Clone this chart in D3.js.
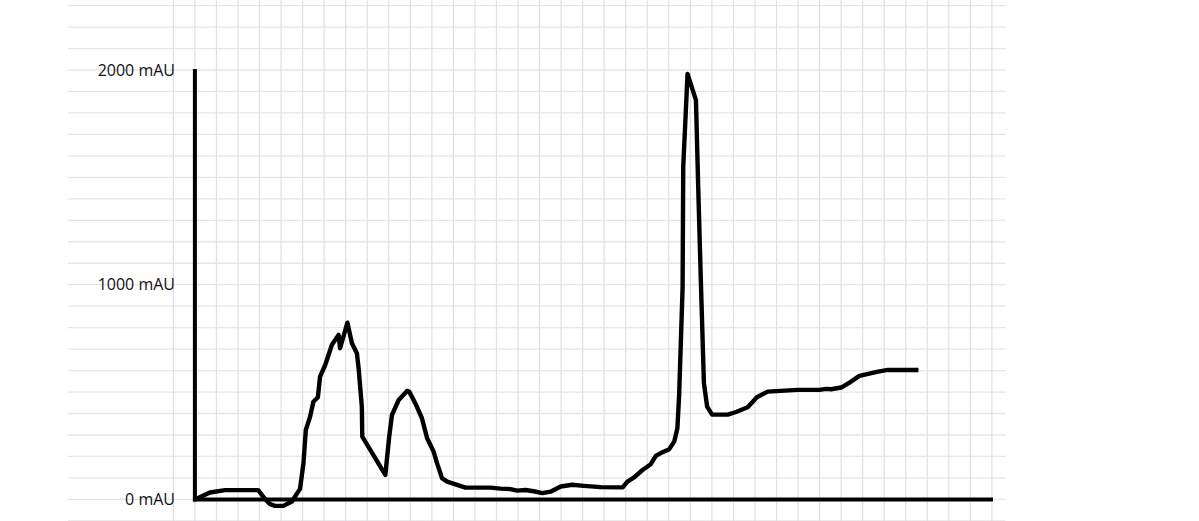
<!DOCTYPE html>
<html>
<head>
<meta charset="utf-8">
<script src="https://cdn.jsdelivr.net/npm/d3@7"></script>
<style>
  body { margin: 0; background: #fff; }
  svg { display: block; }
</style>
</head>
<body>
<div id="chart"></div>
<script>
//chromatogram trace, x in grid units, y in mAU
var timeValues = [0, 0.70, 1.40, 2.94, 3.26, 3.49, 3.72, 4.11, 4.50, 4.88,
    5.04, 5.15, 5.35, 5.50, 5.71, 5.81, 6.05, 6.36, 6.67, 6.74,
    7.08, 7.29, 7.52, 7.60, 7.75, 7.77, 8.84, 9.02, 9.15, 9.46,
    9.85, 9.95, 10.23, 10.54, 10.78, 11.08, 11.24, 11.47, 11.71, 12.56,
    13.72, 14.19, 14.65, 14.96, 15.35, 15.73, 16.13, 16.51, 16.98, 17.52,
    18.06, 18.84, 19.86, 20.08, 20.39, 20.78, 21.16, 21.40, 21.71, 22.02,
    22.25, 22.40, 22.48, 22.64, 22.67, 22.87, 23.26, 23.36, 23.50, 23.63,
    23.78, 24.01, 24.74, 25.12, 25.66, 26.09, 26.59, 27.99, 28.99, 29.30,
    29.53, 30.00, 30.39, 30.85, 31.71, 32.17, 33.59];
var absorbanceValues = [0, 32, 43, 43, 1, -22, -30, -30, -10, 49,
    169, 324, 386, 455, 476, 572, 626, 720, 766, 704,
    823, 727, 681, 611, 432, 292, 114, 292, 394, 463,
    505, 502, 448, 378, 285, 223, 169, 99, 83, 55,
    55, 50, 48, 41, 44, 38, 29, 36, 60, 68,
    63, 57, 56, 83, 103, 137, 164, 203, 220, 234,
    269, 333, 487, 985, 1550, 1982, 1860, 1473, 976, 541,
    432, 395, 395, 407, 429, 476, 502, 510, 510, 515,
    513, 521, 544, 575, 595, 603, 603];
var yTickValues = [0, 1000, 2000];
var yTickLabels = ["0 mAU", "1000 mAU", "2000 mAU"];

//svg size
var svgwidth = 1199;
var svgheight = 521;

var svg = d3.select("#chart").append("svg")
    .attr("width", svgwidth)
    .attr("height", svgheight);

//scales: one grid cell = 1 unit on x, 100 mAU on y
var xScale = d3.scaleLinear()
    .domain([0, 37.05])
    .range([194.9, 993]);
var yScale = d3.scaleLinear()
    .domain([0, 2000])
    .range([499.4, 70]);

//grid
var gridGroup = svg.append("g");

gridGroup.selectAll(".hgrid")
    .data(d3.range(-100, 2301, 100))
    .enter()
    .append("line")
    .attr("x1", 68)
    .attr("x2", 1005.5)
    .attr("y1", d => yScale(d))
    .attr("y2", d => yScale(d))
    .attr("stroke", "#e6e6e8")
    .attr("stroke-width", 1.3);

gridGroup.selectAll(".vgrid")
    .data(d3.range(-1, 38, 1))
    .enter()
    .append("line")
    .attr("x1", d => xScale(d))
    .attr("x2", d => xScale(d))
    .attr("y1", 0)
    .attr("y2", svgheight)
    .attr("stroke", "#dfe0e5")
    .attr("stroke-width", 1.2);

//axes drawn as plain thick lines
svg.append("line")
    .attr("x1", xScale(0))
    .attr("x2", xScale(0))
    .attr("y1", yScale(2000) - 1)
    .attr("y2", yScale(0) + 2)
    .attr("stroke", "#000")
    .attr("stroke-width", 4);

svg.append("line")
    .attr("x1", xScale(0) - 2)
    .attr("x2", xScale(37.05))
    .attr("y1", yScale(0))
    .attr("y2", yScale(0))
    .attr("stroke", "#000")
    .attr("stroke-width", 4);

//tick labels
svg.selectAll(".ylabel")
    .data(yTickValues)
    .enter()
    .append("text")
    .attr("x", 175)
    .attr("y", d => yScale(d) + 5.5)
    .attr("text-anchor", "end")
    .attr("font-family", "'Open Sans', sans-serif")
    .attr("font-size", "16px")
    .attr("fill", "#111")
    .text((d, i) => yTickLabels[i]);

//trace
var traceData = timeValues.map((t, i) => [t, absorbanceValues[i]]);

var line = d3.line()
    .x(d => xScale(d[0]))
    .y(d => yScale(d[1]));

svg.append("path")
    .datum(traceData)
    .attr("d", line)
    .attr("fill", "none")
    .attr("stroke", "#000")
    .attr("stroke-width", 4.4)
    .attr("stroke-linejoin", "round");
</script>
</body>
</html>
